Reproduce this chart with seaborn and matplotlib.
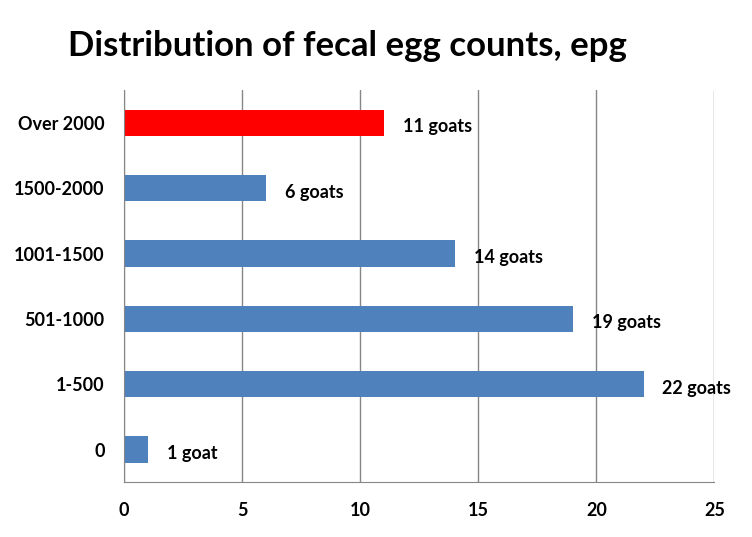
import pandas as pd
import matplotlib
matplotlib.use('Agg')
import matplotlib.pyplot as plt
import seaborn as sns

# --- data ---
categories = ['Over 2000', '1500-2000', '1001-1500', '501-1000', '1-500', '0']
goats = [11, 6, 14, 19, 22, 1]
labels = ['11 goats', '6 goats', '14 goats', '19 goats', '22 goats', '1 goat']
bar_colors = ['#FF0000', '#4F81BD', '#4F81BD', '#4F81BD', '#4F81BD', '#4F81BD']

df = pd.DataFrame({'Range': categories, 'Goats': goats})

sns.set_style('white')
plt.rcParams['font.family'] = ['Lato', 'DejaVu Sans']
plt.rcParams['font.weight'] = 'bold'
plt.rcParams['text.color'] = 'black'
plt.rcParams['xtick.color'] = 'black'
plt.rcParams['ytick.color'] = 'black'

fig = plt.figure(figsize=(7.52, 5.37), dpi=100)
ax = fig.add_axes([0.165, 0.102, 0.785, 0.73])

sns.barplot(data=df, y='Range', x='Goats', hue='Range', palette=bar_colors,
            order=categories, hue_order=categories, width=0.4,
            legend=False, ax=ax, saturation=1, linewidth=0)

# value labels, a little right of and just below the bar end
for i, (v, lab) in enumerate(zip(goats, labels)):
    ax.text(v + 0.8, i + 0.06, lab, va='center', ha='left',
            fontsize=13, fontweight='bold', color='black')

ax.set_xlim(0, 25)
ax.set_xticks([0, 5, 10, 15, 20, 25])
ax.set_xlabel('')
ax.set_ylabel('')
ax.grid(axis='x', color='#868686', linewidth=1)
ax.set_axisbelow(True)
for side in ['top', 'right']:
    ax.spines[side].set_visible(False)
for side in ['left', 'bottom']:
    ax.spines[side].set_color('#868686')
ax.tick_params(axis='both', length=0, labelsize=13, pad=14, labelcolor='black')
for t in ax.get_xticklabels() + ax.get_yticklabels():
    t.set_fontweight('bold')

fig.text(0.09, 0.915, 'Distribution of fecal egg counts, epg',
         fontsize=25, fontweight='bold', ha='left', va='center', color='black')

fig.savefig('out.png', dpi=100)
